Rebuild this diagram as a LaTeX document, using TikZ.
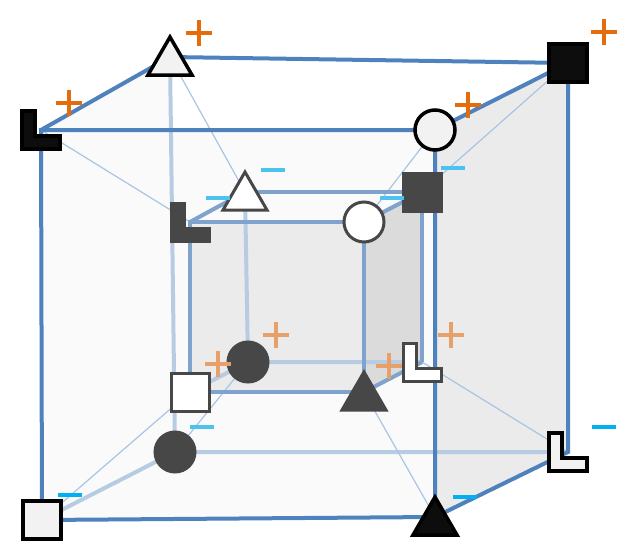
\documentclass[tikz,border=0pt]{standalone}
\usetikzlibrary{shadows}
\definecolor{eb}{HTML}{4F81BD}
\definecolor{ibl}{HTML}{7FA3CC}
\definecolor{fb}{HTML}{B7CCE3}
\definecolor{tb}{HTML}{A9C4E4}
\definecolor{org}{HTML}{E46C0A}
\definecolor{forg}{HTML}{E8A06A}
\definecolor{cy}{HTML}{00B0F0}
\definecolor{fcy}{HTML}{4CC3EE}
\begin{document}
\begin{tikzpicture}[x=1pt,y=-1pt,
 Lm/.pic={\path[pic actions] (-19,-19) -- (-6,-19) -- (-6,6) -- (19,6) -- (19,19) -- (-19,19) -- cycle;},
 tri/.pic={\path[pic actions] (0,-20) -- (22,18) -- (-22,18) -- cycle;},
 sq/.pic={\path[pic actions] (-19,-19) rectangle (19,19);},
 circ/.pic={\path[pic actions] (0,0) circle (20);},
 msh/.style={drop shadow={opacity=0.35,shadow xshift=2pt,shadow yshift=-2pt}},
 mob/.style={msh,draw=black,fill=black!95,line width=3.5},
 mow/.style={msh,draw=black,fill=black!5,line width=3.5},
 mid/.style={msh,draw=black!72,fill=black!72,line width=3},
 miw/.style={msh,draw=black!72,fill=white,line width=3},
 plus/.style={line width=4.5},
 minus/.style={line width=4.5},
 oedge/.style={eb,line width=4},
 iedge/.style={ibl,line width=4},
 fedge/.style={fb,line width=4},
 tlink/.style={tb,line width=1.2}]
\useasboundingbox (0,0) rectangle (632,554);
% vertices
\coordinate (a) at (41,130); \coordinate (b) at (435,130);
\coordinate (c) at (170,57); \coordinate (d) at (568,63);
\coordinate (e) at (42,520); \coordinate (f) at (435,517);
\coordinate (g) at (175,452); \coordinate (h) at (568,452);
\coordinate (ia) at (190,222); \coordinate (ib) at (364,222);
\coordinate (ic) at (245,192); \coordinate (id) at (422,192);
\coordinate (ie) at (190,392); \coordinate (if) at (364,392);
\coordinate (ig) at (248,362); \coordinate (ih) at (422,362);
% faces
\fill[black!2] (a) -- (c) -- (g) -- (e) -- cycle;
\fill[black!2] (a) -- (b) -- (f) -- (e) -- cycle;
\fill[black!8] (b) -- (d) -- (h) -- (f) -- cycle;
\fill[black!8] (ia) -- (ib) -- (if) -- (ie) -- cycle;
\fill[black!14] (ib) -- (id) -- (ih) -- (if) -- cycle;
% back edges
\draw[fedge] (c) -- (g) -- (h);
\draw[fedge] (e) -- (g);
\draw[fedge] (ic) -- (ig) -- (ih);
\draw[fedge] (ie) -- (ig);
% thin links
\foreach \p/\q in {a/ia,b/ib,c/ic,d/id,e/ie,f/if,g/ig,h/ih}
  \draw[tlink] (\p) -- (\q);
% inner front edges
\draw[iedge] (ic) -- (id) -- (ih);
\draw[iedge] (ia) -- (ic);
\draw[iedge] (ib) -- (id);
\draw[iedge] (if) -- (ih);
\draw[iedge] (ia) -- (ib) -- (if) -- (ie) -- cycle;
% outer edges
\draw[oedge] (a) -- (b) -- (f) -- (e) -- cycle;
\draw[oedge] (a) -- (c) -- (d) -- (h) -- (f);
\draw[oedge] (b) -- (d);
% markers outer
\pic[mob] at (a) {Lm};
\pic[mow] at (b) {circ};
\pic[mow] at (c) {tri};
\pic[mob] at (d) {sq};
\pic[mow] at (e) {sq};
\pic[mob] at (f) {tri};
\pic[mid] at (g) {circ};
\pic[mow] at (h) {Lm};
% markers inner
\pic[mid] at (ia) {Lm};
\pic[miw] at (ib) {circ};
\pic[miw] at (ic) {tri};
\pic[mid] at (id) {sq};
\pic[miw] at (ie) {sq};
\pic[mid] at (if) {tri};
\pic[mid] at (ig) {circ};
\pic[miw] at (ih) {Lm};
% signs
\foreach \x/\y in {199/33,69/103,468/105,604/32}
  \draw[org,plus] (\x-13,\y) -- (\x+13,\y) (\x,\y-13) -- (\x,\y+13);
\foreach \x/\y in {276/335,218/364,389/366,451/335}
  \draw[forg,plus] (\x-13,\y) -- (\x+13,\y) (\x,\y-13) -- (\x,\y+13);
\foreach \x/\y in {273/170,218/198,392/198,453/168,202/427}
  \draw[fcy,minus] (\x-12,\y) -- (\x+12,\y);
\foreach \x/\y in {70/495,465/497,604/427}
  \draw[cy,minus] (\x-12,\y) -- (\x+12,\y);
\end{tikzpicture}
\end{document}
